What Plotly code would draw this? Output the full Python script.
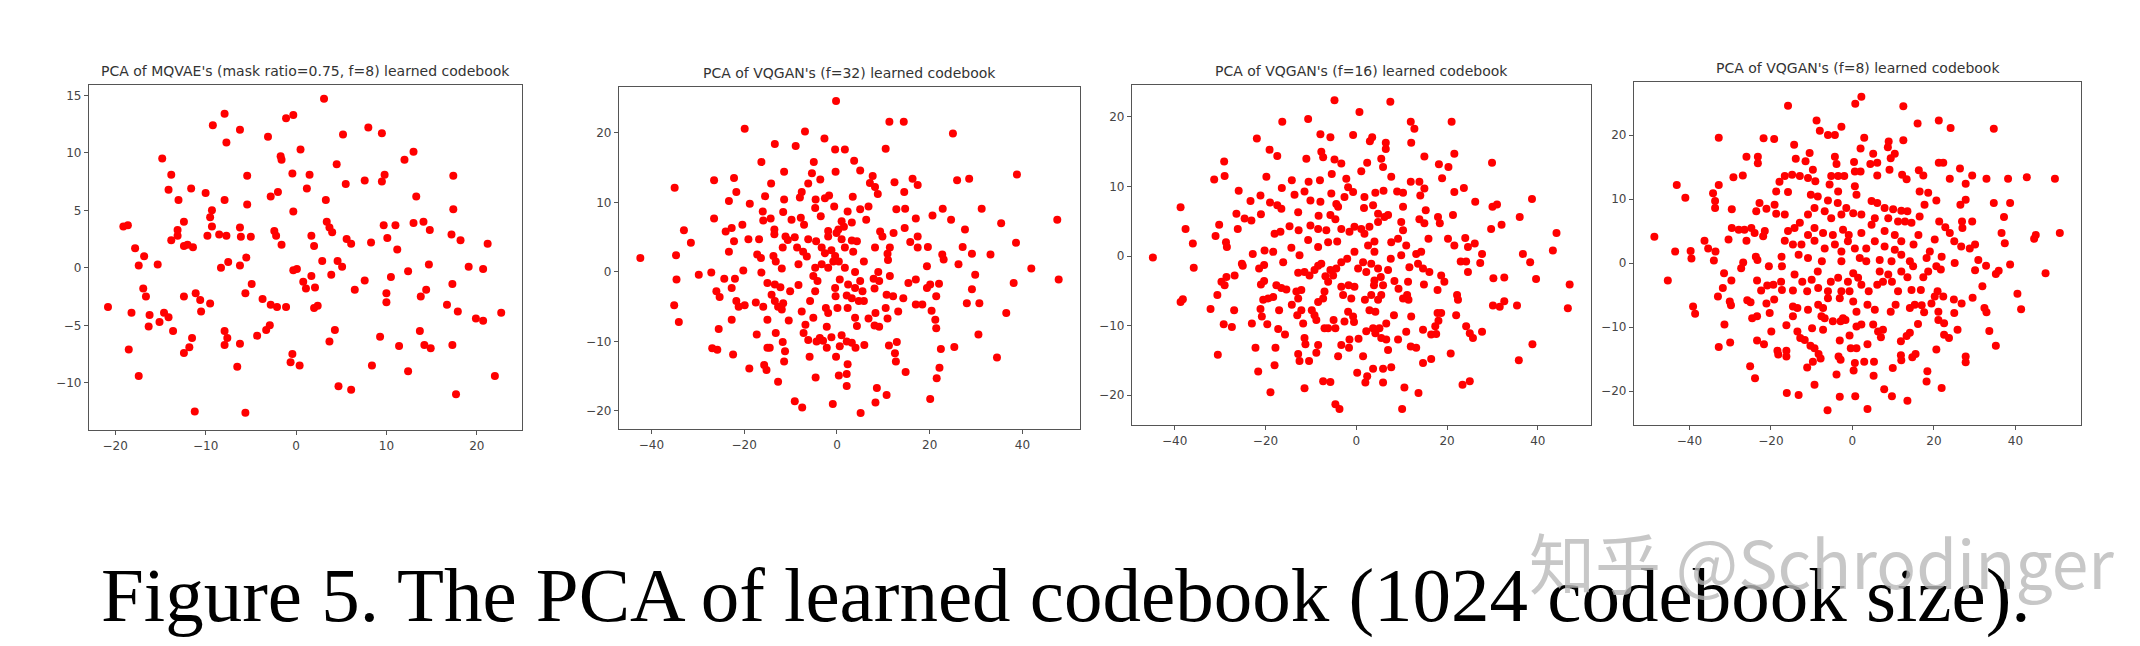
import plotly.graph_objects as go

titles = ["PCA of MQVAE's (mask ratio=0.75, f=8) learned codebook",
          "PCA of VQGAN's (f=32) learned codebook",
          "PCA of VQGAN's (f=16) learned codebook",
          "PCA of VQGAN's (f=8) learned codebook"]
caption = "Figure 5. The PCA of learned codebook (1024 codebook size)."
watermark = "知乎 @Schrodinger"

p1 = [(3.1,14.7),(-7.9,13.4),(-9.2,12.4),(-6.2,12.0),(-7.7,10.9),(-1.1,13.0),(-0.3,13.3),(-3.1,11.4),(0.5,10.3),(-1.7,9.7),(-1.6,9.4),(5.2,11.6),(8.0,12.2),(9.5,11.7),(13.0,10.1),(12.0,9.4),(4.5,9.0),(-14.8,9.5),(-13.8,8.1),(-14.1,6.8),(-13.0,5.9),(-11.6,6.9),(-10.0,6.5),(-7.9,5.9),(-5.4,8.0),(-5.4,5.5),(-2.8,6.2),(-2.0,6.6),(-0.4,8.2),(1.5,8.1),(1.2,6.9),(-0.3,4.9),(3.3,5.9),(5.5,7.3),(7.6,7.6),(9.5,7.5),(9.8,8.1),(13.3,6.2),(17.4,8.0),(17.4,5.1),(-9.3,5.0),(-9.5,4.4),(-9.3,3.6),(-9.8,2.8),(-12.4,4.0),(-13.1,3.3),(-13.1,2.8),(-13.8,2.4),(-12.4,1.9),(-12.0,2.0),(-11.4,1.8),(-19.1,3.6),(-18.6,3.7),(-17.8,1.7),(-16.8,1.0),(-17.4,0.2),(-15.3,0.3),(-8.5,2.9),(-7.7,2.8),(-6.2,3.5),(-6.1,2.7),(-5.0,2.7),(-5.5,0.9),(-6.2,0.2),(-7.5,0.5),(-8.3,0.0),(-2.4,3.2),(-2.2,2.8),(-1.6,2.0),(1.7,2.8),(2.0,1.9),(3.4,4.0),(3.7,3.5),(4.0,3.1),(5.6,2.5),(6.1,2.1),(8.3,2.2),(9.7,3.7),(11.0,3.7),(10.1,2.6),(11.2,1.6),(13.0,3.9),(14.1,4.0),(14.8,3.3),(17.2,2.9),(18.2,2.4),(21.2,2.1),(2.9,0.6),(4.6,0.6),(5.1,0.1),(-0.3,-0.2),(0.1,-0.1),(14.7,0.3),(19.1,0.1),(20.7,-0.1),
      (1.7,-0.7),(3.9,-0.6),(0.8,-1.2),(1.1,-1.8),(2.1,-1.7),(7.6,-1.1),(6.5,-1.9),(10.5,-0.8),(12.4,-0.3),(17.3,-1.4),(14.4,-1.9),(10.0,-2.2),(10.0,-3.0),(13.8,-2.5),(16.7,-3.2),(17.9,-3.8),(19.9,-4.4),(20.7,-4.6),(22.7,-3.9),(-4.9,-1.4),(-5.6,-2.2),(-3.7,-2.7),(-2.8,-3.2),(-2.1,-3.4),(-1.1,-3.4),(2.0,-3.5),(2.4,-3.3),(-9.5,-3.1),(-10.6,-2.8),(-11.1,-2.2),(-10.5,-3.8),(-12.4,-2.5),(-16.9,-1.8),(-16.6,-2.5),(-20.8,-3.4),(-18.2,-3.9),(-16.2,-4.1),(-14.6,-3.9),(-14.1,-4.3),(-15.1,-4.7),(-16.3,-5.1),(-13.6,-5.5),(-11.5,-6.1),(-11.8,-6.9),(-12.4,-7.4),(-18.5,-7.1),(-17.4,-9.4),(-7.9,-5.5),(-7.6,-6.1),(-7.9,-6.7),(-6.2,-6.6),(-4.3,-5.9),(-3.3,-5.4),(-2.9,-5.0),(-6.5,-8.6),(-11.2,-12.5),(-5.6,-12.6),(-0.4,-7.5),(-0.6,-8.2),(0.4,-8.5),(3.7,-6.4),(4.3,-5.4),(9.3,-6.0),(11.4,-6.8),(8.4,-8.5),(12.4,-9.0),(4.7,-10.3),(6.1,-10.6),(13.7,-5.5),(14.2,-6.7),(14.9,-7.0),(17.3,-6.7),(17.7,-11.0),(22.0,-9.4)]

p2 = [(-0.2,24.6),(-19.9,20.6),(-6.9,20.2),(11.3,21.6),(14.4,21.6),(25.0,19.9),(-13.4,18.4),(-8.9,18.1),(-2.7,19.2),(-0.4,17.6),(1.7,17.6),(10.5,17.7),(-16.3,15.8),(-5.0,15.8),(3.7,16.0),(5.0,14.6),(-0.3,14.4),(-11.4,14.4),(-5.4,14.2),(-3.6,13.3),(7.7,13.8),(7.1,12.8),(16.3,13.4),(17.4,12.5),(12.4,12.9),(25.9,13.2),(28.5,13.4),(38.8,14.0),(-35.0,12.1),(-26.5,13.2),(-22.2,13.5),(-21.7,11.5),(-14.2,12.7),(-6.2,12.7),(-7.6,11.5),(-8.0,10.7),(-15.5,10.9),(-23.3,10.2),(-18.8,9.8),(-11.4,10.4),(-4.6,10.4),(-2.6,10.6),(-1.7,11.0),(3.4,10.8),(8.2,12.2),(8.8,11.2),(14.5,11.5),(-0.6,9.4),(-4.7,9.2),(12.8,9.0),(14.7,9.1),(22.8,9.1),(31.2,9.1),(-26.5,7.7),(-16.0,8.7),(-11.6,8.6),(-15.9,7.4),(-14.3,7.7),(-3.5,8.0),(2.3,8.7),(5.0,9.0),(6.8,9.4),(6.3,7.5),(17.0,7.7),(20.6,8.1),(24.6,7.5),(35.4,7.0),(47.5,7.5),(-20.4,6.8),(-9.8,7.5),(-7.8,7.8),(-7.1,6.8),(1.0,7.3),(3.2,7.1),(1.5,6.5),(-33.0,6.0),(-24.0,5.8),(-22.7,6.3),(-13.5,6.1),(-13.5,5.4),(-11.1,5.1),(-10.6,4.6),(-9.1,5.0),(-6.2,4.7),(-1.9,5.9),(-1.9,5.1),(-0.1,5.6),(0.3,6.1),(1.0,4.7),(3.2,4.5),(4.3,4.4),(9.3,5.8),(9.8,5.1),(12.2,5.6),(14.6,6.3),(15.8,4.3),(17.4,5.1),(17.4,3.5),(19.6,3.6),(27.6,6.1),(27.1,3.6),(38.6,4.2),(-31.5,4.2),(-22.2,4.4),(-19.1,4.7),(-16.8,4.7),(-23.3,2.9),(-11.7,3.5),(-8.6,3.5),(-17.2,2.5),(-16.4,2.0),(-13.7,2.3),(-13.2,1.5),(-7.3,2.9),(-6.5,2.2),(-4.5,4.4),(-3.3,3.5),(-2.6,2.7),(-1.2,3.1),(-0.4,2.3),(0.4,1.5),(1.7,3.5),(3.5,2.9),(5.8,1.5),(8.2,3.5),(10.9,2.6),(11.4,3.5),(11.0,1.7),(22.7,2.5),(23.0,1.8),(29.1,2.6),(33.1,2.5),(26.2,1.1),(19.4,0.8),(41.9,0.5),(-42.4,2.0),(-34.7,2.4),(-11.9,0.5),(-8.3,1.1),(-20.2,0.2),(-27.1,-0.1),(-29.8,-0.4),(-16.3,-0.1),(-4.7,0.6),(-3.3,1.1),(-1.9,0.6),(-0.8,1.5),(1.7,0.6),(3.9,0.0),(8.9,0.0),
      (-34.6,-1.1),(-24.3,-1.0),(-22.7,-2.3),(-22.0,-1.0),(-26.0,-2.8),(-25.3,-3.6),(-35.1,-4.8),(-34.1,-7.2),(-25.5,-8.2),(-22.7,-6.9),(-21.7,-4.2),(-21.2,-5.0),(-19.9,-4.8),(-17.5,-4.4),(-15.9,-5.0),(-17.3,-9.0),(-26.9,-11.0),(-25.8,-11.2),(-22.4,-11.9),(-18.9,-13.9),(-15.7,-13.4),(-15.2,-14.1),(-15.0,-10.9),(-14.5,-10.9),(-15.0,-6.9),(-13.2,-8.8),(-12.7,-15.8),(-11.7,-10.1),(-11.2,-11.4),(-11.4,-12.9),(-10.4,-7.0),(-14.1,-3.3),(-13.4,-4.2),(-12.7,-5.0),(-11.9,-5.4),(-11.6,-4.5),(-15.0,-1.6),(-13.4,-1.8),(-12.2,-2.2),(-10.1,-2.8),(-8.3,-1.9),(-7.6,-5.7),(-6.8,-7.6),(-7.2,-8.8),(-6.2,-9.8),(-5.8,-4.2),(-5.1,-6.6),(-4.4,-10.0),(-3.7,-9.5),(-3.0,-9.9),(-2.2,-10.9),(-5.9,-12.2),(-4.6,-15.2),(-9.1,-18.6),(-7.5,-19.5),(-0.9,-19.0),(5.1,-20.3),(-2.2,-7.9),(-2.4,-5.2),(-1.9,-5.9),(-1.2,-9.4),(0.1,-5.2),(-0.3,-3.5),(-0.4,-2.3),(0.6,-1.1),(-4.7,-2.8),(-4.2,-1.3),(-5.1,-0.6),(2.1,-3.4),(3.2,-3.8),(2.4,-1.8),(3.9,-2.3),(5.0,-1.3),(5.5,-2.8),(4.7,-4.2),(5.8,-4.2),(3.9,-6.6),(4.3,-7.8),(2.3,-5.2),(1.0,-9.1),(0.6,-10.7),(2.1,-10.0),(3.2,-10.2),(4.0,-10.9),(5.9,-10.5),(-0.2,-12.2),(0.4,-14.9),(2.1,-14.7),(2.3,-13.3),(2.1,-16.4),(6.8,-6.7),(8.1,-7.7),(9.1,-7.9),(8.3,-5.9),(8.1,-2.4),(7.9,-1.0),(9.1,-1.3),(10.5,-5.2),(10.9,-6.7),(11.4,-0.6),(10.7,-3.3),(12.1,-3.5),(13.2,-5.7),(14.3,-3.8),(11.2,-10.6),(12.5,-11.7),(12.7,-12.9),(12.9,-10.1),(14.8,-14.4),(8.6,-16.7),(10.7,-17.7),(8.3,-18.8),(15.4,-1.6),(17.0,-1.1),(17.0,-4.7),(18.4,-4.7),(19.4,-2.3),(20.1,-1.8),(20.4,-5.6),(21.2,-6.9),(21.4,-8.1),(21.4,-3.5),(22.0,-1.7),(22.4,-11.1),(22.1,-13.8),(21.5,-15.3),(20.1,-18.3),(25.3,-10.8),(28.0,-4.5),(29.1,-2.5),(29.8,-0.4),(30.7,-4.5),(30.5,-9.0),(34.5,-12.3),(36.5,-5.9),(38.1,-1.6),(47.8,-1.1)]

p3 = [(-4.8,22.4),(7.5,22.2),(0.7,20.7),(-16.3,19.3),(-10.6,19.7),(12.0,19.3),(12.8,18.3),(21.0,19.3),(-7.9,17.5),(-5.7,17.1),(-0.7,17.4),(3.5,17.1),(3.0,16.5),(6.5,16.3),(12.1,16.3),(-21.9,16.9),(-19.1,15.3),(-17.4,14.4),(-7.7,15.0),(-7.3,14.2),(-4.8,13.9),(-3.3,13.3),(-11.0,14.0),(5.5,14.0),(6.5,15.4),(5.9,12.8),(7.7,11.4),(2.4,13.4),(1.1,12.2),(15.0,14.3),(18.2,13.2),(20.3,12.8),(21.6,14.7),(29.9,13.4),(18.9,11.2),(-29.1,13.6),(-29.0,11.5),(-31.3,11.0),(-19.8,11.4),(-10.5,10.7),(-8.0,10.9),(-5.4,11.8),(-2.2,11.1),(-1.8,9.9),(12.0,10.7),(13.9,10.7),(23.7,9.8),(21.6,9.2),(-38.7,7.0),(-25.9,9.4),(-21.1,8.7),(-23.3,7.9),(-16.4,9.8),(-14.2,10.9),(-13.6,8.8),(-11.4,9.3),(-10.1,8.0),(-7.9,7.8),(-5.5,9.0),(-2.6,8.5),(-0.7,9.2),(1.8,8.5),(4.2,9.1),(6.0,9.4),(9.0,9.3),(10.3,9.1),(14.1,8.7),(15.0,9.7),(26.2,7.8),(30.0,7.1),(31.0,7.4),(38.7,8.2),(-19.0,7.7),(-17.4,7.3),(-16.5,6.8),(-12.8,6.3),(-4.4,7.5),(-4.0,7.1),(1.7,6.9),(3.7,7.3),(10.3,7.1),(-26.4,6.1),(-21.0,6.0),(-24.6,5.4),(-23.1,5.1),(-26.1,3.9),(-30.2,4.5),(-37.6,3.9),(-31.0,2.9),(-28.7,2.0),(-28.5,1.3),(-36.0,1.8),(-44.8,-0.2),(-22.8,0.3),(-20.2,0.8),(-18.0,3.2),(-16.7,3.5),(-14.7,4.3),(-12.7,3.7),(-10.1,4.4),(-8.4,3.9),(-6.6,3.7),(-8.3,5.8),(-5.7,5.9),(-4.6,5.3),(-3.3,3.9),(-1.5,3.5),(-0.4,4.2),(1.1,3.9),(2.9,4.2),(4.8,4.9),(6.2,5.6),(4.8,6.1),(7.0,5.9),(9.9,4.9),(10.3,3.7),(13.9,5.3),(15.0,4.7),(15.3,6.6),(18.0,5.6),(18.4,4.7),(21.3,5.9),(29.7,3.9),(32.0,4.5),(36.0,5.6),(44.1,3.3),(43.3,0.8),(36.7,0.3),(15.9,2.5),(20.2,2.5),(21.6,1.5),(24.0,2.6),(26.1,1.8),(27.7,0.3),(24.6,1.3),(-14.3,1.2),(-18.3,0.6),(-10.6,2.3),(-8.4,1.3),(-6.2,2.0),(-4.2,2.1),(1.8,3.2),(4.0,2.1),(4.0,0.6),(2.6,1.5),(7.7,2.0),(9.2,2.5),(11.0,1.5),(13.2,0.3),(14.3,0.6),(-12.5,0.1),(-0.4,0.6),
      (-35.8,-1.7),(-25.2,-1.1),(-25.0,-1.4),(-26.8,-2.8),(-28.6,-3.0),(-29.7,-3.7),(-29.0,-4.2),(-30.6,-5.6),(-38.7,-6.6),(-38.2,-6.2),(-32.1,-7.6),(-26.9,-7.8),(-29.2,-9.8),(-27.4,-10.2),(-30.5,-14.2),(-23.0,-9.7),(-22.2,-13.2),(-21.6,-16.6),(-18.9,-19.6),(-18.0,-15.7),(-17.8,-13.2),(-19.6,-9.8),(-20.8,-8.7),(-21.1,-7.6),(-20.5,-6.3),(-19.4,-6.1),(-18.3,-5.9),(-21.0,-4.1),(-20.3,-3.6),(-21.4,-1.8),(-20.3,-1.3),(-16.1,-0.9),(-17.6,-4.2),(-16.5,-4.6),(-15.4,-4.8),(-17.0,-7.8),(-17.2,-10.5),(-15.7,-11.3),(-14.2,-7.0),(-13.2,-5.1),(-12.8,-6.1),(-12.1,-4.9),(-13.0,-8.5),(-12.1,-7.8),(-11.7,-9.7),(-11.4,-11.8),(-11.2,-12.7),(-12.8,-14.1),(-12.5,-15.1),(-10.4,-15.1),(-11.4,-19.0),(-12.8,-2.4),(-11.4,-2.3),(-10.3,-2.8),(-9.2,-2.0),(-8.4,-1.4),(-7.7,-1.1),(-9.8,-7.8),(-9.2,-8.5),(-8.8,-9.2),(-8.4,-6.6),(-7.3,-6.1),(-7.0,-5.1),(-6.2,-3.7),(-6.8,-2.9),(-5.1,-2.8),(-4.4,-1.8),(-3.3,-0.9),(-2.0,-0.4),(-5.7,-2.0),(-8.4,-12.8),(-8.8,-13.9),(-7.0,-10.4),(-6.2,-10.4),(-4.6,-10.4),(-5.0,-9.2),(-4.0,-14.4),(-7.3,-18.0),(-5.7,-18.1),(-4.6,-21.3),(-3.7,-22.0),(-2.6,-9.4),(-2.9,-5.6),(-3.3,-4.4),(-1.7,-4.2),(-1.1,-6.1),(-0.7,-8.7),(-0.5,-9.5),(-1.8,-8.0),(-1.5,-12.0),(-1.6,-13.2),(-3.3,-12.8),(-0.4,-4.4),(0.4,-1.8),(1.5,-0.9),(2.2,-2.3),(3.3,-1.1),(4.8,-1.8),(4.0,-3.5),(3.9,-4.2),(5.4,-3.0),(5.9,-4.2),(5.5,-5.6),(4.8,-6.3),(3.3,-5.6),(1.9,-6.3),(2.9,-7.8),(4.2,-8.0),(0.5,-11.9),(2.2,-10.8),(3.7,-10.4),(4.2,-11.1),(5.1,-10.4),(5.5,-11.8),(6.6,-12.0),(7.0,-13.5),(6.6,-9.7),(8.3,-8.5),(9.2,-12.0),(11.0,-10.9),(12.1,-8.7),(12.0,-13.0),(13.2,-13.2),(1.5,-14.4),(0.2,-16.8),(2.4,-17.3),(2.0,-18.2),(3.7,-16.2),(5.9,-16.2),(7.7,-16.0),(5.9,-18.2),(10.6,-18.9),(10.1,-22.0),(13.7,-19.7),(14.7,-15.4),(16.5,-14.8),(14.7,-10.6),(16.5,-11.3),(17.6,-11.2),(17.4,-10.1),(18.1,-9.3),(17.9,-8.2),(18.7,-8.2),(17.9,-4.9),(19.4,-3.7),(18.7,-2.8),(16.1,-2.3),(14.9,-4.1),(14.7,-1.8),(13.6,-1.1),(11.7,-1.6),(11.4,-3.7),(11.2,-5.6),(11.5,-6.3),(10.3,-6.1),(9.3,-4.7),(8.4,-3.6),(7.0,-2.0),(7.6,-0.4),(9.9,0.1),(22.2,-5.6),(22.4,-6.3),(22.0,-8.5),(24.2,-10.1),(25.0,-11.1),(25.7,-11.8),(27.7,-10.9),(20.8,-14.0),(23.4,-18.5),(25.0,-18.0),(23.0,-0.8),(24.2,-0.8),(24.6,-2.3),(27.3,-1.0),(30.2,-3.2),(32.6,-3.1),(30.1,-7.1),(31.6,-7.3),(32.6,-6.5),(35.4,-7.1),(35.8,-15.0),(38.8,-12.7),(38.3,-0.9),(39.6,-3.3),(47.0,-4.1),(46.6,-7.5)]

p4 = [(2.2,26.0),(0.7,24.9),(-15.8,24.6),(12.5,24.5),(-8.8,22.3),(-8.0,20.7),(-2.7,21.3),(-6.0,20.0),(-4.3,20.0),(16.0,21.8),(21.2,22.3),(24.1,21.1),(34.7,21.0),(-32.8,19.6),(-21.8,19.5),(-19.2,19.4),(2.9,19.6),(8.9,19.0),(12.5,19.2),(8.7,18.1),(-14.3,18.5),(2.0,17.9),(5.1,17.1),(10.4,17.1),(9.4,16.4),(-10.5,17.2),(-11.5,15.9),(-13.9,16.3),(-4.3,16.6),(-3.9,15.5),(0.4,15.8),(4.4,15.5),(6.1,15.7),(9.1,14.6),(21.2,15.7),(22.3,15.7),(26.4,14.8),(-26.0,16.6),(-23.2,16.6),(-23.2,15.6),(-9.7,14.6),(0.6,14.3),(2.0,14.3),(16.3,14.5),(17.4,13.7),(12.2,13.8),(13.3,13.1),(6.1,13.7),(-16.6,13.6),(-14.8,13.8),(-12.9,13.6),(-10.9,13.3),(-9.1,12.8),(-5.2,13.6),(-3.5,13.6),(-2.0,13.6),(-29.2,13.4),(-26.9,13.7),(-32.8,12.2),(-43.1,12.2),(-41.0,10.2),(-34.2,10.9),(-33.7,9.7),(-33.7,8.6),(-29.6,8.4),(23.9,13.2),(27.8,12.4),(29.4,13.7),(32.9,13.2),(38.2,13.2),(42.8,13.4),(49.7,13.2),(-17.9,12.7),(-18.7,11.2),(-15.8,11.1),(-5.6,12.3),(-3.5,11.2),(0.6,12.0),(1.0,10.7),(16.5,11.2),(18.6,11.0),(20.6,9.8),(17.7,9.1),(27.8,9.9),(26.5,9.1),(34.7,9.4),(38.7,9.4),(37.2,7.2),(-10.2,10.7),(-8.5,10.4),(-6.0,9.8),(-3.6,9.4),(-1.5,8.6),(4.7,9.7),(6.1,9.4),(7.9,8.6),(10.0,8.4),(12.0,8.2),(13.5,8.1),(-22.8,9.4),(-23.6,8.1),(-21.1,8.5),(-19.1,9.1),(-18.7,7.7),(-16.6,7.6),(-10.9,7.6),(-9.3,8.6),(-6.8,8.1),(-5.2,7.0),(-2.7,7.6),(0.2,7.8),(2.2,7.6),(4.7,6.0),(5.5,7.0),(8.8,7.0),(11.2,6.5),(12.9,6.5),(14.5,6.3),(16.5,7.3),(21.3,6.5),(26.9,6.5),(29.4,6.5),(27.0,5.5),(22.8,5.6),(23.9,4.7),(-29.6,5.5),(-27.9,5.2),(-26.5,5.2),(-24.8,5.5),(-24.0,4.7),(-21.5,5.0),(-15.8,5.0),(-14.2,5.5),(-12.9,6.3),(-9.3,5.5),(-10.9,4.4),(-7.2,4.7),(-4.8,4.4),(-2.3,5.2),(-0.9,4.4),(2.2,4.7),(7.9,5.0),(10.4,4.4),(12.0,3.4),(16.2,4.4),(20.2,3.7),(36.6,4.7),(45.0,4.4),(44.6,3.8),(50.9,4.7),(-48.6,4.1),(-36.3,3.5),(-35.4,2.3),(-33.6,1.8),(-30.4,3.7),(-26.0,3.5),(-21.9,4.2),(-16.6,3.5),(-14.6,2.9),(-12.5,2.9),(-9.3,3.5),(-6.8,2.3),(-4.3,2.9),(-2.7,1.8),(-1.1,3.4),(0.6,2.3),(3.4,2.3),(5.5,3.4),(7.9,2.6),(10.4,2.1),(12.0,1.3),(15.0,2.9),(19.0,1.8),(21.9,1.0),(25.0,3.4),(26.7,2.6),(28.8,2.3),(30.1,2.9),(37.4,3.1),(-43.5,1.8),(-39.7,1.9),(-39.5,0.7),(-34.0,0.4),(-26.8,0.1),(-23.7,1.0),(-23.3,0.5),(-17.4,1.0),(-13.2,1.3),(-10.9,0.8),(-7.5,0.3),(-2.7,0.3),(1.8,0.8),(3.4,0.3),(6.7,0.5),(9.6,0.3),(14.1,0.3),(18.2,0.8),(25.1,0.0),(30.9,0.5),(38.7,-0.2),
      (-45.3,-2.7),(-31.5,-1.6),(-29.7,-2.7),(-31.8,-3.9),(-33.0,-5.2),(-30.1,-6.0),(-29.8,-6.6),(-39.1,-6.8),(-38.6,-7.9),(-31.4,-9.6),(-32.8,-13.1),(-30.0,-12.4),(-27.3,-0.8),(-25.8,-5.8),(-25.0,-6.1),(-24.6,-8.6),(-23.4,-8.3),(-23.4,-2.7),(-22.4,-4.3),(-20.9,-3.5),(-19.4,-3.4),(-21.1,-6.3),(-20.3,-7.8),(-19.2,-5.7),(-19.9,-10.7),(-23.4,-12.1),(-21.7,-12.7),(-25.1,-16.1),(-23.9,-18.0),(-20.5,-0.5),(-17.3,-0.5),(-17.5,-2.9),(-17.3,-4.2),(-16.2,-9.7),(-18.4,-13.7),(-18.2,-14.3),(-16.2,-13.7),(-16.2,-14.6),(-16.1,-20.3),(-13.2,-20.6),(-14.2,-1.8),(-14.6,-4.3),(-14.6,-6.8),(-14.6,-8.3),(-13.5,-10.7),(-13.5,-7.0),(-12.8,-11.7),(-11.7,-12.0),(-12.3,-2.9),(-11.1,-4.4),(-10.9,-7.3),(-9.9,-10.2),(-10.3,-12.9),(-9.3,-13.3),(-11.1,-16.3),(-9.7,-15.4),(-9.3,-19.0),(-8.3,-14.2),(-7.8,-14.9),(-8.5,-1.3),(-10.0,-2.6),(-8.4,-3.9),(-8.4,-6.5),(-7.2,-7.0),(-7.6,-8.3),(-7.2,-10.4),(-6.8,-8.6),(-6.0,-5.5),(-6.0,-4.4),(-4.8,-9.1),(-5.3,-2.9),(-3.5,-2.3),(-2.7,-4.4),(-3.1,-5.5),(-2.3,-8.6),(-2.9,-9.1),(-3.1,-12.1),(-3.4,-14.6),(-2.9,-15.1),(-3.9,-17.4),(-3.1,-20.9),(-6.1,-23.0),(-1.7,-8.9),(-0.7,-11.3),(-0.4,-13.3),(1.0,-13.3),(0.6,-15.6),(0.3,-16.8),(0.7,-20.8),(2.9,-15.4),(3.7,-22.8),(3.7,-12.7),(2.2,-9.6),(1.0,-9.9),(1.0,-7.6),(0.2,-6.0),(-0.7,-4.4),(-1.1,-2.9),(0.2,-1.6),(1.4,-2.3),(2.2,-3.4),(4.0,-4.4),(3.7,-6.5),(5.5,-7.3),(5.1,-9.6),(6.3,-10.7),(7.0,-11.6),(7.5,-10.4),(5.3,-15.4),(5.2,-17.6),(7.8,-19.7),(9.7,-20.8),(9.9,-16.4),(13.5,-21.5),(11.9,-14.4),(12.0,-15.2),(11.9,-12.2),(13.3,-11.4),(14.1,-10.9),(14.7,-14.7),(15.5,-14.2),(9.4,-7.6),(10.6,-6.5),(11.2,-4.4),(9.7,-2.9),(8.8,-1.8),(6.7,-1.3),(6.1,-3.4),(7.5,-2.9),(12.0,-1.3),(13.5,-2.2),(14.5,-4.2),(14.1,-7.0),(15.3,-6.5),(17.0,-6.6),(17.6,-7.7),(16.1,-9.5),(16.8,-4.2),(17.4,-2.2),(18.6,-1.3),(14.9,-0.5),(20.6,-0.5),(21.7,-1.0),(19.4,-6.3),(20.2,-5.2),(20.9,-4.4),(22.3,-5.2),(21.1,-7.6),(21.1,-8.9),(22.5,-9.4),(20.6,-13.5),(22.5,-11.2),(23.7,-11.7),(18.4,-16.9),(18.2,-18.5),(21.9,-19.5),(24.9,-5.7),(25.0,-7.8),(26.8,-6.3),(25.8,-10.4),(27.8,-14.6),(27.8,-15.5),(29.5,-5.4),(30.1,-1.1),(31.9,-3.6),(32.4,-7.0),(32.9,-7.7),(33.6,-10.6),(35.2,-12.9),(35.2,-1.7),(35.9,-1.2),(32.8,-0.4),(40.5,-4.8),(41.4,-7.2),(47.4,-1.6)]

panels = [p1, p2, p3, p4]
x_ranges = [(-22.9, 25.0), (-47.0, 52.4), (-49.4, 51.7), (-53.6, 56.1)]
y_ranges = [(-14.1, 15.9), (-22.6, 26.6), (-24.3, 24.6), (-25.3, 28.3)]
x_ticks = [[-20, -10, 0, 10, 20], [-40, -20, 0, 20, 40], [-40, -20, 0, 20, 40], [-40, -20, 0, 20, 40]]
y_ticks = [[-10, -5, 0, 5, 10, 15], [-20, -10, 0, 10, 20], [-20, -10, 0, 10, 20], [-20, -10, 0, 10, 20]]

W, H = 2140, 646
frames_px = [(81, 514, 77, 422), (611, 1072, 79, 421), (1124, 1583, 77, 417), (1626, 2073, 74, 417)]

fig = go.Figure()
layout = dict(width=W, height=H, margin=dict(l=0, r=0, t=0, b=0),
              paper_bgcolor="white", plot_bgcolor="white", showlegend=False,
              font=dict(family="DejaVu Sans", color="#444", size=12))
annotations = []
for i, pts in enumerate(panels):
    n = "" if i == 0 else str(i + 1)
    fig.add_trace(go.Scatter(x=[p[0] for p in pts], y=[p[1] for p in pts], mode="markers",
                             marker=dict(color="red", size=8, line=dict(width=0)),
                             xaxis="x" + n, yaxis="y" + n))
    l, r, t, b = frames_px[i]
    axstyle = dict(showgrid=False, zeroline=False, showline=True, mirror=True,
                   linecolor="#555", linewidth=1.3, ticks="outside", ticklen=4,
                   tickcolor="#555", tickfont=dict(size=12, color="#444"))
    layout["xaxis" + n] = dict(domain=[l / W, r / W], range=list(x_ranges[i]),
                               tickvals=x_ticks[i], anchor="y" + n, **axstyle)
    layout["yaxis" + n] = dict(domain=[1 - b / H, 1 - t / H], range=list(y_ranges[i]),
                               tickvals=y_ticks[i], anchor="x" + n, **axstyle)
    annotations.append(dict(text=titles[i], x=(l + r) / 2 / W, y=1 - (t - 14) / H,
                            xref="paper", yref="paper", showarrow=False,
                            xanchor="center", yanchor="middle",
                            font=dict(size=14, color="#333", family="DejaVu Sans")))
annotations.append(dict(text=caption, x=1058 / W, y=1 - 587 / H, xref="paper", yref="paper",
                        showarrow=False, xanchor="center", yanchor="middle",
                        font=dict(size=77, color="black", family="Liberation Serif")))
annotations.append(dict(text=watermark, x=1519 / W, y=1 - 552 / H, xref="paper", yref="paper",
                        showarrow=False, xanchor="left", yanchor="middle",
                        font=dict(size=66, color="rgba(185,185,185,0.8)", family="Noto Sans CJK SC")))
layout["annotations"] = annotations
fig.update_layout(**layout)
fig.write_html("out.html")
